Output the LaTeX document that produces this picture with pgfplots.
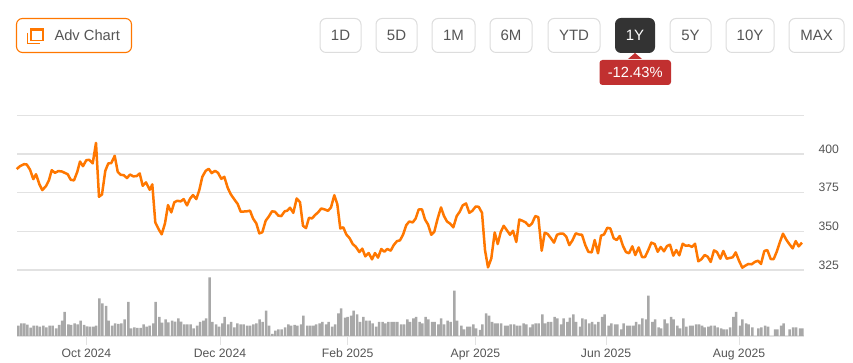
\documentclass[border=0pt]{standalone}
\usepackage{pgfplots}
\usepackage{pgfplotstable}
\pgfplotsset{compat=1.18}
\usepackage{fontspec}
\setmainfont{Liberation Sans}
\definecolor{lineor}{HTML}{FF7700}
\definecolor{gridg}{HTML}{E2E2E2}
\definecolor{barg}{HTML}{A8A8A8}
\definecolor{txtg}{HTML}{555555}
\definecolor{btn}{HTML}{DDDDDD}
\definecolor{redb}{HTML}{C13030}
\definecolor{darkb}{HTML}{333333}
\pgfplotstableread{
x y
16.7 390.3
20 392.2
24 393.5
26.7 393.3
30 390
33.3 383.8
36 387
39.3 380.6
42.3 376.7
46 379.3
49 383.2
51.7 389.6
55 387.9
58.3 389
61.7 388.8
67.7 387
70.7 383.4
74 383
77.3 388.6
80 395.2
83 392.2
86.3 396.1
89.3 396.3
92.7 394
96 407.3
99 372.4
102 373.9
105.3 389.2
108.3 394
111.3 394.2
114.7 398.9
117.7 388.6
120.7 386.6
123.7 386.4
127 384.5
130 386.8
133.3 385.6
136.7 385.8
139.7 387.5
142.7 379.5
146 381.7
149.7 376.9
152.3 380.4
155.3 355.8
158.7 351.3
161.7 348.1
165 355.2
168 367
171.3 362.3
174.3 368.8
177.3 369.8
180.7 369.4
183.7 370.9
187 366.8
190 371.1
193 373.5
196.3 370.9
199.3 376.7
202.3 385.3
205.7 389.2
208.7 390.5
211.7 387.7
215 389.2
218 387.9
221.3 384
224.3 385.3
227.7 378.2
230.7 374.1
234.3 370.7
237.7 367.7
240.7 362.7
247 363
250 363.4
253 358.4
256.3 355.2
259.3 348.7
262.3 349.4
265.7 356.9
268.7 359.5
272 363
275 362.7
278.3 360.2
281.3 359.9
284.7 363
287.3 363.4
290 365.3
293.3 362
296.7 371.3
300 368.9
303 353.6
306 352.1
309 358.8
312 358.4
315 360.5
318.3 362.5
321.3 364.8
324.7 364.2
328 363.3
331 365.5
334.3 373.4
337.3 367.6
340.3 351.9
343.3 352.6
346.3 348
349.7 345.5
352.7 341.8
355.7 340.1
359.3 336.6
362.3 338.8
365.3 333.8
368.7 336
372 331.9
375 336
378 333
381.3 338.6
384.3 336.8
387.3 338.6
390.7 337.5
393.7 341.1
397 343.7
400 344.2
403 347.8
406.3 354.1
409.3 356.4
412.7 355.8
415.7 358.4
418.7 364.2
422 364.2
425 357.7
428 354.5
431.3 347.8
434.3 349.8
437.7 358.4
441 365.5
444 359.9
447 356.4
450.3 354.9
453.3 352.6
456.7 359.9
459.7 362.7
462.7 366.8
466 368.1
469.3 362
472.3 363.3
475.7 366.1
478.7 365.9
482 362
485 337.9
488 326.7
491.3 332.5
494.7 349.3
497.7 341.8
500.7 349.5
503.7 353.6
507 350.6
510 347.8
513 350.4
516.3 343.1
519.3 357.7
522.3 356.9
525.7 355.8
529 353.4
532 355.1
535.3 359.9
538.3 359.2
541.7 337.5
544.7 349.1
547.7 348.3
551 345.5
554 342.7
557 347.8
560 348.5
563.3 348.5
566.3 346.5
569.3 341.1
572.3 344
575.7 348.7
579 348
582 347.8
585.3 341.1
588.3 336.8
591.7 336.4
594.7 344.4
598 335.8
601 347.2
604 348
607.3 352.3
610.3 351.9
613.7 345.5
616.7 344.4
619.7 347
623 340.5
626 336.6
629 335.8
632.3 340.3
635.3 334.7
638.7 339.6
642 333.4
645 333.4
648.3 337.9
651.3 342.7
654.7 341.8
657.7 336.8
660.7 339.9
664 337.1
667 340.5
670 341.4
673.3 334.3
676.3 337.9
679.3 334.5
682.7 342
685.7 340.7
689 340.9
692 339.9
695 342
698.3 330.6
701.3 331.9
704.7 334.7
707.7 333.6
710.7 330.2
714 337.7
717 336.6
720.3 332.3
723.3 337.3
726.7 332.3
729.7 332.8
732.7 333.2
735.7 336.4
739 331
742.3 326.5
745.3 327.8
748.3 328.9
751.7 328.7
754.7 330.2
758 331
761 328.9
764.3 337.3
767.3 337.9
770.7 332.1
773.7 332.1
776.7 336.8
780 343.3
783 348.5
786.3 344.6
789.3 341.8
792.7 339
795.7 343.7
798.7 340.3
802 342.7
}\pricetable
\pgfplotstableread{
x v
18.3 31
21.3 38
24.3 38
27.3 34
30.7 25
33.7 31
37 31
40 28
43.3 31
46.3 26
49.7 31
52.7 31
56 23
59 33
62 46
64.7 72
68.3 35
71 33
74.7 38
77.7 35
80.7 46
84 33
87 29
90 28
93.3 28
96 31
99.3 113
102.3 98
106 90
108.7 46
112 31
115 38
118.3 36
121.3 38
124.7 50
128.3 102
131 23
134.3 26
137.3 24
140.7 24
143.7 35
146.7 28
149.7 31
153.3 38
155.7 102
159.3 57
162 40
165.7 50
168.3 41
172 46
175 43
178.3 53
181 43
184.3 35
187.3 35
190.7 35
193.7 23
197 31
200 42
203.3 46
206 53
209.7 176
212.3 42
216 35
219 28
222.3 38
224.7 57
228 35
231 42
234.3 26
237.3 38
240.7 35
243.7 35
247 31
250 31
253.3 35
256.3 38
259.7 50
262.7 42
266 76
269 31
272.3 6
275.3 16
278.3 20
281.7 20
285 26
288.3 35
291 31
294.7 33
297.3 31
301 35
303.3 61
307.3 31
310.3 31
313.3 31
316 35
319.7 38
322.3 42
326 35
328.7 42
332 28
335 35
338.3 68
341 83
345 55
347.7 57
351 61
353.7 76
357 65
360 42
363.3 57
366.3 46
369.7 46
372.7 38
376 28
379 42
382.7 42
385.3 38
388.3 42
391.7 42
394.3 42
397.3 42
401 35
404 35
407.3 50
410 42
413.3 53
416 57
419.7 42
422.3 38
425.7 57
428.3 50
432 42
434.7 42
438.3 35
441 53
444 35
447.7 46
450.7 42
454.3 136
457 46
461.3 31
464 20
467.3 28
470 28
473.3 35
476 23
480 18
482.3 35
486 68
489 61
492 42
495 38
497.7 38
501 38
505 31
507.7 31
510.7 35
514 35
517 31
520 31
523.7 38
526.3 35
530 26
532.7 35
535.7 38
538.7 38
542.3 65
545 38
548 42
551 42
554.7 57
557.3 53
561 35
563.7 53
567.3 42
569.9 55
573.3 65
576 42
580 28
582.3 53
585.7 50
589 38
592 42
595 35
598.3 42
602 57
604.7 65
608.7 31
611.3 38
615 35
617.3 35
621.3 20
623.7 38
627.3 31
630 31
633.3 31
636 42
639.3 35
642.3 53
646 50
648.3 121
652.3 42
655 50
658.7 26
661 23
664.7 50
667.3 38
671 57
673.7 50
677.3 31
680 23
683.3 53
686.3 28
690 31
692.7 31
696 35
699 35
702 31
704.7 26
708.3 28
711 31
714.7 31
717.7 26
721 23
723.7 20
726.7 20
730 26
733.3 57
736 72
740 31
742.3 50
746 38
748.7 35
752.3 26
758.3 23
761.3 26
765 31
768 28
775 20
777.3 20
781 31
783.7 38
789.7 20
793 26
796 26
800 23
802.3 23
}\voltable
\newcommand{\btn}[3]{%
  \draw[btn,line width=1pt,rounded corners=6pt,fill=white] (#1pt,344.5pt) rectangle (#2pt,310.5pt);
  \node[text=txtg,inner sep=0pt] at ({(#1+#2)/2*1pt},327.5pt) {\fontsize{15}{16}\selectfont #3};}
\begin{document}
\begin{tikzpicture}[x=1pt,y=1pt]
\useasboundingbox (0,0) rectangle (853pt,363pt);
% price
\begin{axis}[
  at={(17pt,93pt)},anchor=south west,scale only axis,width=787pt,height=154.5pt,
  xmin=17,xmax=804,ymin=325,ymax=425,
  axis x line=none,axis y line=right,
  y axis line style={draw=none},
  xtick=\empty,
  ytick={325,350,375,400,425},yticklabels={325,350,375,400,},
  ymajorgrids,grid style={gridg,line width=1.5pt},
  major tick length=0pt,
  yticklabel style={anchor=west,xshift=11pt,yshift=5pt,text=txtg,font=\fontsize{12.2}{14}\selectfont},
  /pgf/number format/assume math mode=true,
  clip=false]
\addplot[lineor,line width=2.5pt,line join=round] table[x=x,y=y] {\pricetable};
\end{axis}
% volume
\begin{axis}[
  at={(17pt,27pt)},anchor=south west,scale only axis,width=787pt,height=66pt,
  xmin=17,xmax=804,ymin=0,ymax=198,
  hide y axis,axis x line=bottom,
  axis line style={-,gridg,line width=1.5pt},
  xtick={86.5,220,347.7,475.5,606,739},
  xticklabels={Oct 2024,Dec 2024,Feb 2025,Apr 2025,Jun 2025,Aug 2025},
  xtick style={gridg,line width=1pt},
  tick align=outside,major tick length=9pt,
  xticklabel style={text=txtg,font=\fontsize{12.2}{14}\selectfont,text height=9pt,text depth=2.5pt,yshift=0pt},
  ]
\addplot[ybar,bar width=2.5pt,bar shift=0pt,fill=barg,draw=none] table[x=x,y=v] {\voltable};
\end{axis}
% controls
\draw[lineor,line width=1.1pt,rounded corners=6pt] (16.5pt,344.5pt) rectangle (131.5pt,310.5pt);
\draw[lineor,line width=1.6pt] (31pt,322.3pt) rectangle (43pt,333.7pt);
\draw[lineor,line width=2.4pt] (31pt,333.4pt) -- (43pt,333.4pt);
\draw[lineor,line width=1.5pt] (27.5pt,330pt) -- (27.5pt,319.5pt) -- (40pt,319.5pt);
\node[anchor=west,text=txtg,inner sep=0pt] at (54.3pt,327.5pt) {\fontsize{14.7}{16}\selectfont Adv Chart};
\btn{320}{361}{1D}
\btn{376}{417}{5D}
\btn{432}{475}{1M}
\btn{490}{532}{6M}
\btn{548}{600}{YTD}
\btn{670}{711}{5Y}
\btn{726}{774}{10Y}
\btn{789}{844}{MAX}
\fill[darkb,rounded corners=6pt] (615pt,345pt) rectangle (655pt,310pt);
\node[text=white,inner sep=0pt] at (635pt,327.5pt) {\fontsize{15}{16}\selectfont 1Y};
\fill[redb] (628pt,304pt) -- (635pt,310pt) -- (642pt,304pt) -- cycle;
\fill[redb,rounded corners=3pt] (599.5pt,303pt) rectangle (671pt,278pt);
\node[text=white,inner sep=0pt] at (635.2pt,290.5pt) {\fontsize{14.7}{16}\selectfont -12.43\%};
\end{tikzpicture}
\end{document}
